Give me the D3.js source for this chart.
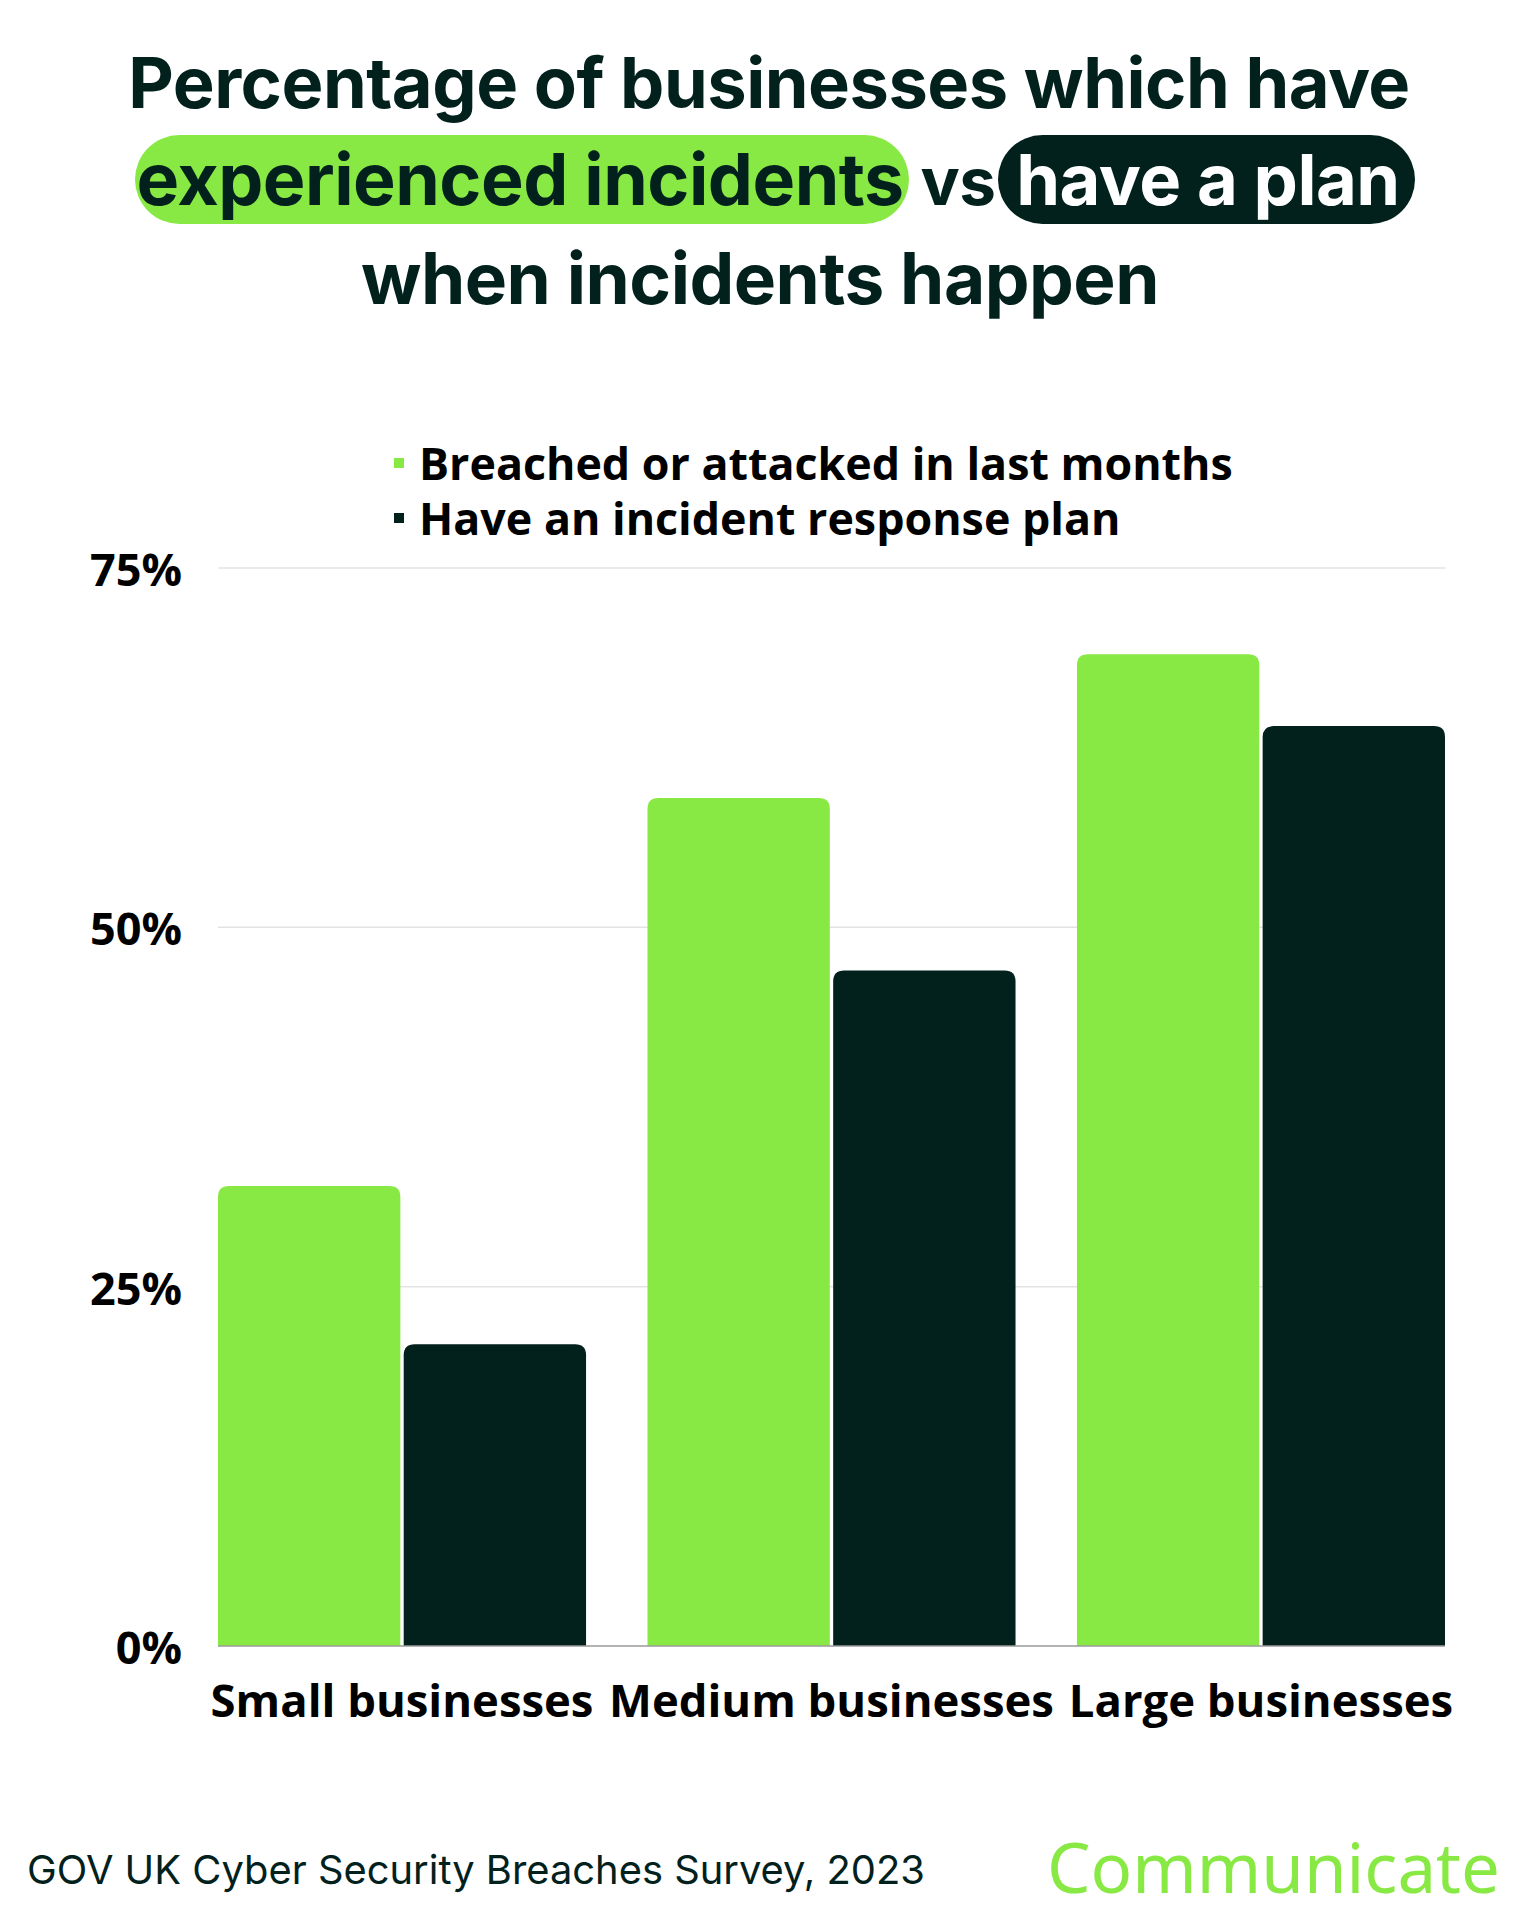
<!DOCTYPE html>
<html><head><meta charset="utf-8">
<script src="https://cdn.jsdelivr.net/npm/d3@7"></script>
<style>html,body{margin:0;padding:0;background:#fff}svg{display:block}</style>
</head><body>
<svg id="c" width="1536" height="1920"></svg>
<script>
const categories = ["Small businesses", "Medium businesses", "Large businesses"];
const seriesNames = ["Breached or attacked in last months", "Have an incident response plan"];
const breached = [32, 59, 69];
const plan = [21, 47, 64];
const yTicks = [0, 25, 50, 75];
const tickLabels = ["0%", "25%", "50%", "75%"];
const titleLine1 = "Percentage of businesses which have";
const titlePill1 = "experienced incidents";
const titleVs = "vs";
const titlePill2 = "have a plan";
const titleLine3 = "when incidents happen";
const source = "GOV UK Cyber Security Breaches Survey, 2023";
const brand = "Communicate";

const GREEN = "#89e944", DARK = "#02211d";
const svg = d3.select("#c");
const TF = "Inter, 'DejaVu Sans', sans-serif";
const BF = "'Open Sans', 'Noto Sans', sans-serif";

function fit(sel, target) {
  const w = sel.node().getBBox().width;
  const fs = parseFloat(sel.attr("font-size"));
  sel.attr("font-size", fs * target / w);
  return sel;
}

// Title
fit(svg.append("text").attr("x", 769).attr("y", 108).attr("text-anchor", "middle")
  .attr("font-family", TF).attr("font-weight", 700).attr("font-size", 64).attr("fill", DARK)
  .attr("letter-spacing", -0.5).text(titleLine1), 1280);
svg.append("rect").attr("x", 135).attr("y", 135).attr("width", 774).attr("height", 89).attr("rx", 44.5).attr("fill", GREEN);
svg.append("rect").attr("x", 998).attr("y", 135).attr("width", 417).attr("height", 89).attr("rx", 44.5).attr("fill", DARK);
fit(svg.append("text").attr("x", 520).attr("y", 205).attr("text-anchor", "middle")
  .attr("font-family", TF).attr("font-weight", 700).attr("font-size", 64).attr("fill", DARK)
  .attr("letter-spacing", -0.5).text(titlePill1), 766);
fit(svg.append("text").attr("x", 958).attr("y", 205).attr("text-anchor", "middle")
  .attr("font-family", TF).attr("font-weight", 700).attr("font-size", 64).attr("fill", DARK)
  .attr("letter-spacing", -0.5).text(titleVs), 75);
fit(svg.append("text").attr("x", 1208).attr("y", 205).attr("text-anchor", "middle")
  .attr("font-family", TF).attr("font-weight", 700).attr("font-size", 64).attr("fill", "#fff")
  .attr("letter-spacing", -0.5).text(titlePill2), 383);
fit(svg.append("text").attr("x", 760).attr("y", 304).attr("text-anchor", "middle")
  .attr("font-family", TF).attr("font-weight", 700).attr("font-size", 64).attr("fill", DARK)
  .attr("letter-spacing", -0.5).text(titleLine3), 797);

// Legend
const legColors = [GREEN, DARK];
const legBase = [480, 535];
seriesNames.forEach((s, i) => {
  svg.append("rect").attr("x", 394).attr("y", legBase[i] - 22).attr("width", 10).attr("height", 10).attr("fill", legColors[i]);
  const t = svg.append("text").attr("x", 419).attr("y", legBase[i])
    .attr("font-family", BF).attr("font-weight", 700).attr("font-size", 44).attr("fill", "#000").text(s);
  if (i === 0) fit(t, 814);
});
{
  const texts = svg.selectAll("text").filter(function(){ return seriesNames.includes(this.textContent); });
  const fs = d3.select(texts.nodes()[0]).attr("font-size");
  texts.attr("font-size", fs);
}

// Scales
const x0 = d3.scaleBand().domain(categories).range([218, 1445]).paddingInner(0.143).paddingOuter(0);
const x1 = d3.scaleBand().domain([0, 1]).range([0, x0.bandwidth()]).paddingInner(0.018);
const y = d3.scaleLinear().domain([0, 75]).range([1646, 568]);

// Grid
svg.append("g").selectAll("line").data(yTicks.filter(d => d > 0)).join("line")
  .attr("x1", 218).attr("x2", 1445).attr("y1", d => y(d)).attr("y2", d => y(d))
  .attr("stroke", "#e3e3e3").attr("stroke-width", 1.5);

// Tick labels
svg.append("g").selectAll("text").data(yTicks).join("text")
  .attr("x", 182).attr("y", d => y(d) + 18).attr("text-anchor", "end")
  .attr("font-family", BF).attr("font-weight", 700).attr("font-size", 45).attr("fill", "#000")
  .text((d, i) => tickLabels[i]);

// Bars
function topRounded(x, yy, w, h, r) {
  r = Math.min(r, h, w / 2);
  return `M${x},${yy + h}V${yy + r}Q${x},${yy} ${x + r},${yy}H${x + w - r}Q${x + w},${yy} ${x + w},${yy + r}V${yy + h}Z`;
}
const rows = categories.map((c, i) => ({ c, vals: [breached[i], plan[i]] }));
const g = svg.append("g").selectAll("g").data(rows).join("g").attr("transform", d => `translate(${x0(d.c)},0)`);
g.selectAll("path").data(d => d.vals.map((v, k) => ({ v, k }))).join("path")
  .attr("d", d => topRounded(x1(d.k), y(d.v), x1.bandwidth(), y(0) - y(d.v), 11))
  .attr("fill", d => legColors[d.k]);

// Baseline
svg.append("line").attr("x1", 218).attr("x2", 1445).attr("y1", y(0)).attr("y2", y(0))
  .attr("stroke", "#9a9a9a").attr("stroke-width", 1.5);

// Category labels
const catT = svg.append("g").selectAll("text").data(categories).join("text")
  .attr("x", d => x0(d) + x0.bandwidth() / 2).attr("y", 1717).attr("text-anchor", "middle")
  .attr("font-family", BF).attr("font-weight", 700).attr("font-size", 44).attr("fill", "#000")
  .text(d => d);
fit(d3.select(catT.nodes()[0]), 383);
catT.attr("font-size", d3.select(catT.nodes()[0]).attr("font-size"));

// Footer
fit(svg.append("text").attr("x", 27).attr("y", 1884)
  .attr("font-family", TF).attr("font-weight", 400).attr("font-size", 40).attr("fill", DARK).text(source), 898);
fit(svg.append("text").attr("x", 1047).attr("y", 1893)
  .attr("font-family", "'Noto Sans', sans-serif").attr("font-weight", 400).attr("font-size", 66).attr("fill", GREEN).text(brand), 453);
</script>
</body></html>
